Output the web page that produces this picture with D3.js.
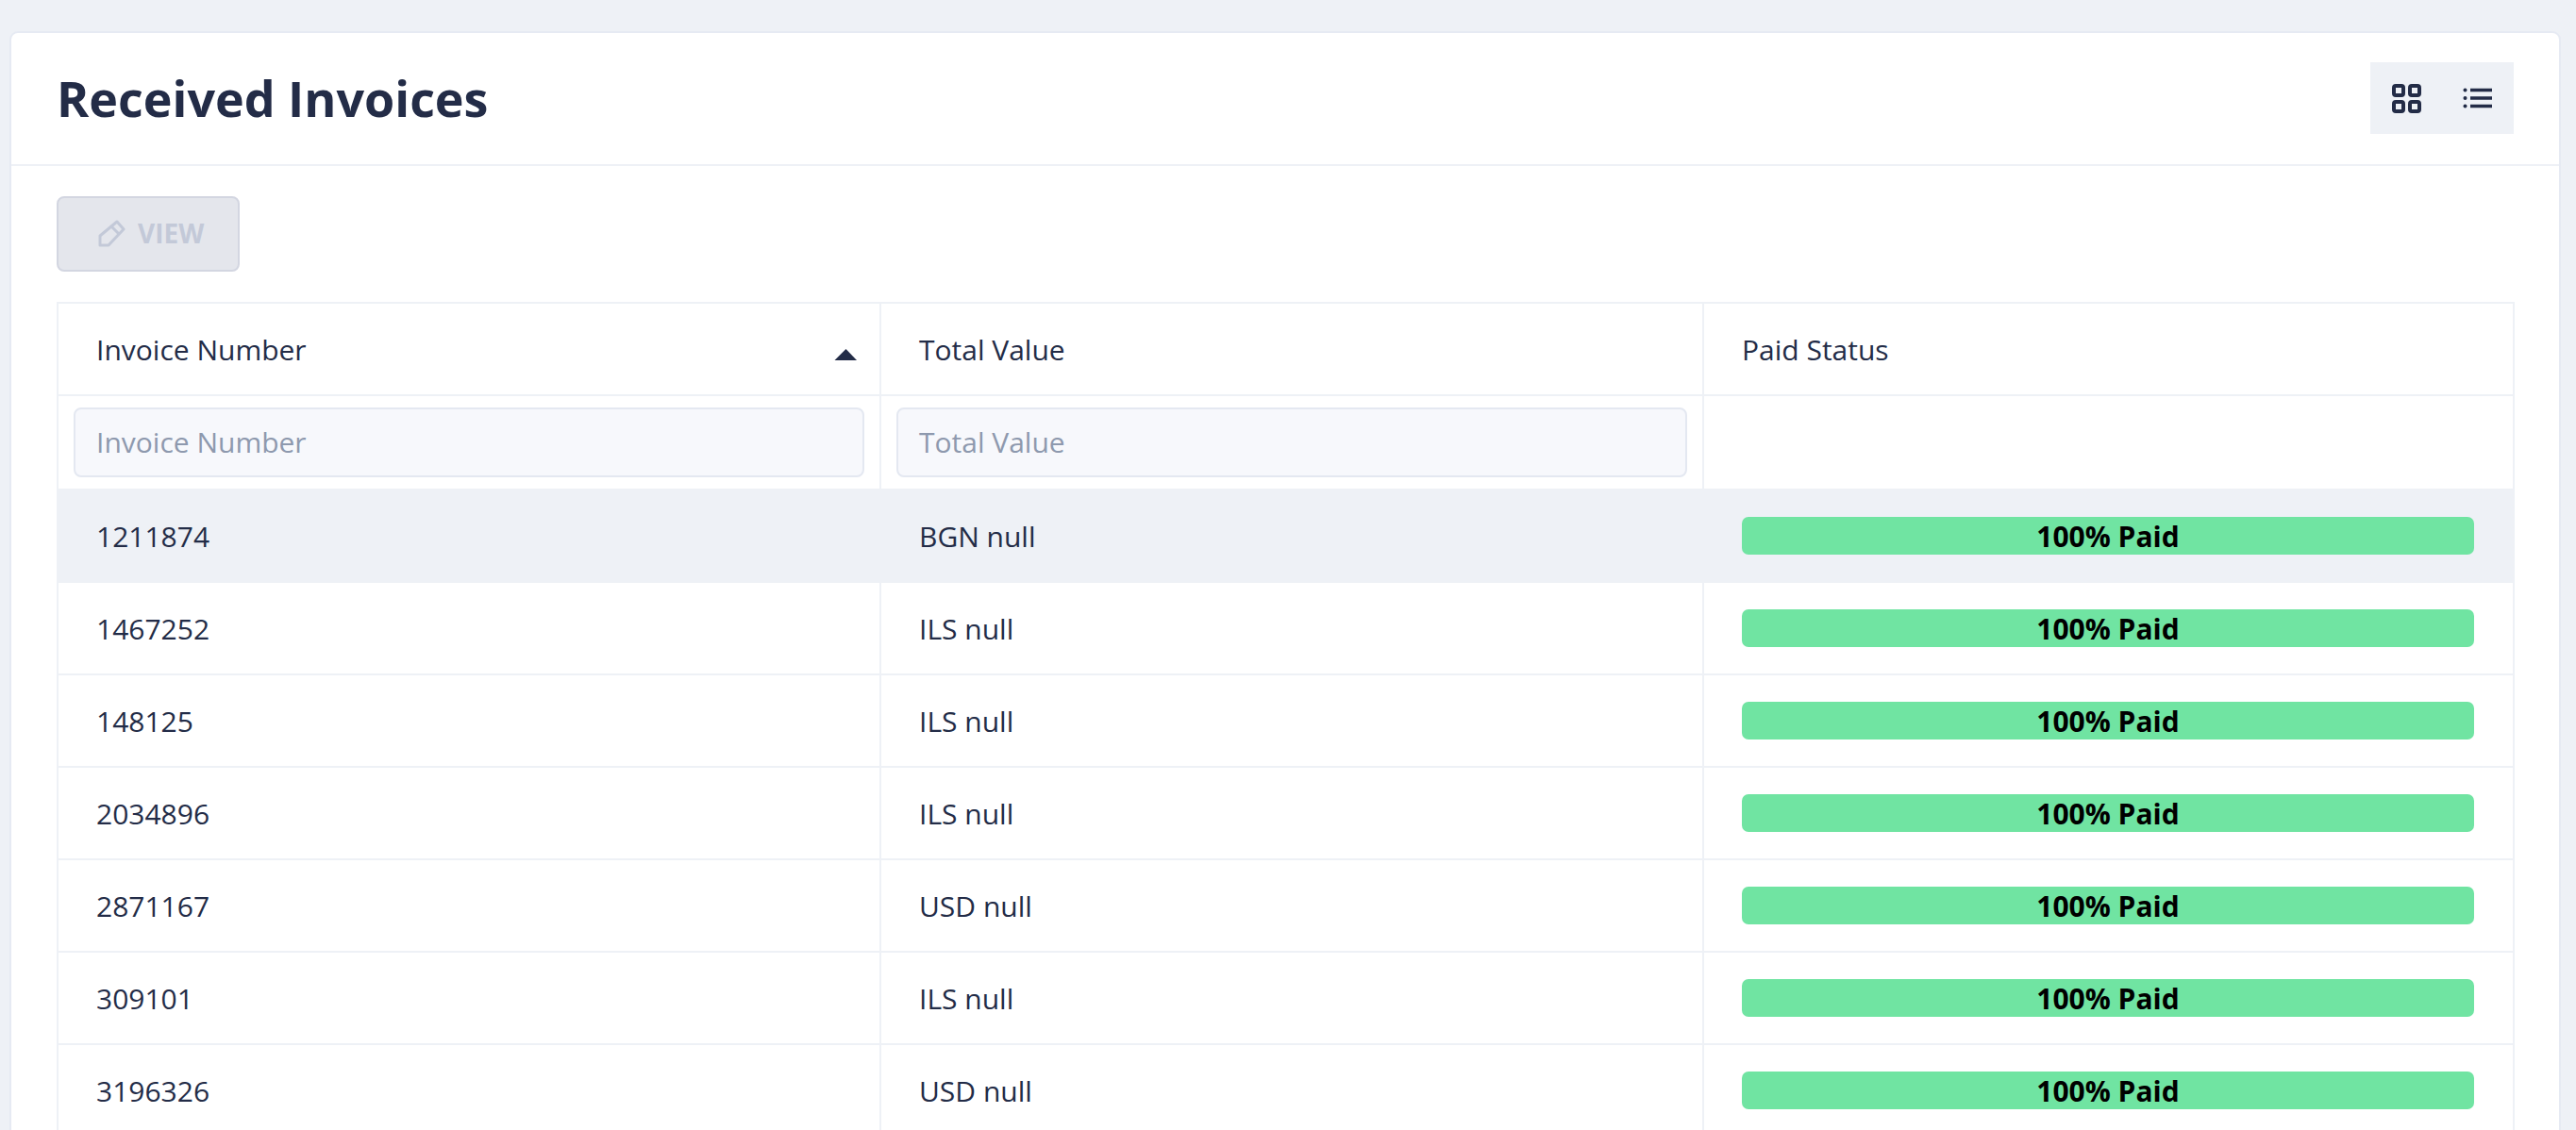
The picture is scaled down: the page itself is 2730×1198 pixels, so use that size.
<!DOCTYPE html>
<html>
<head>
<meta charset="utf-8">
<script src="https://cdn.jsdelivr.net/npm/d3@7/dist/d3.min.js"></script>
<style>
  html, body { margin: 0; padding: 0; background: #eef1f6; overflow: hidden; }
  svg { display: block; }
  text { font-family: "Open Sans", "Noto Sans", sans-serif; }
</style>
</head>
<body>
<div id="chart"></div>
<script>
const title = 'Received Invoices';
const viewLabel = 'VIEW';
const columns = ['Invoice Number', 'Total Value', 'Paid Status'];
const filterColumns = ['Invoice Number', 'Total Value'];
const invoiceNumbers = ['1211874', '1467252', '148125', '2034896', '2871167', '309101', '3196326'];
const totalValues = ['BGN null', 'ILS null', 'ILS null', 'ILS null', 'USD null', 'ILS null', 'USD null'];
const paidPercents = [100, 100, 100, 100, 100, 100, 100];

const width = 2730;
const height = 1198;
const ink = '#232c47';
const line = '#eef1f6';

const rows = invoiceNumbers.map((n, i) => ({ number: n, total: totalValues[i], paid: paidPercents[i], i }));

const svg = d3.select('#chart').append('svg')
  .attr('width', width)
  .attr('height', height)
  .attr('viewBox', [0, 0, width, height]);

// scales for the table grid
const colX = d3.scaleOrdinal().domain(columns).range([61, 933, 1805]);
const tableRight = 2664;
const rowY = d3.scaleBand().domain(d3.range(rows.length)).range([518, 518 + 98 * rows.length]);
const barX = d3.scaleLinear().domain([0, 100]).range([1846, 2622]);

// card
svg.append('rect')
  .attr('x', 11).attr('y', 34)
  .attr('width', 2702).attr('height', 1300)
  .attr('rx', 8)
  .attr('fill', '#fff')
  .attr('stroke', '#e6eaf3')
  .attr('stroke-width', 2);

svg.append('line')
  .attr('x1', 12).attr('x2', 2712)
  .attr('y1', 175).attr('y2', 175)
  .attr('stroke', line).attr('stroke-width', 2);

svg.append('text')
  .attr('x', 60).attr('y', 124)
  .attr('font-size', 52)
  .attr('font-weight', 700)
  .attr('fill', ink)
  .text(title);

// grid / list toggle
const toggle = svg.append('g');
toggle.append('rect')
  .attr('x', 2512).attr('y', 66)
  .attr('width', 152).attr('height', 76)
  .attr('fill', '#eef1f6');

[[2537, 91], [2554, 91], [2537, 108], [2554, 108]].forEach(p => {
  toggle.append('rect')
    .attr('x', p[0]).attr('y', p[1])
    .attr('width', 10).attr('height', 10)
    .attr('rx', 2)
    .attr('fill', 'none')
    .attr('stroke', ink)
    .attr('stroke-width', 4);
});

[95.5, 104, 112.5].forEach(y => {
  toggle.append('circle')
    .attr('cx', 2612.5).attr('cy', y).attr('r', 2)
    .attr('fill', ink);
  toggle.append('line')
    .attr('x1', 2618).attr('x2', 2641)
    .attr('y1', y).attr('y2', y)
    .attr('stroke', ink).attr('stroke-width', 3.5);
});

// disabled view button
const button = svg.append('g');
button.append('rect')
  .attr('x', 61).attr('y', 209)
  .attr('width', 192).attr('height', 78)
  .attr('rx', 7)
  .attr('fill', '#e4e6ec')
  .attr('stroke', '#d3d6e1')
  .attr('stroke-width', 2);

button.append('path')
  .attr('d', 'M106 260 L106 250 L124 235 L131 243 L115 260 Z M118 240 L126 248')
  .attr('fill', 'none')
  .attr('stroke', '#c3c9d8')
  .attr('stroke-width', 3)
  .attr('stroke-linejoin', 'round');

button.append('text')
  .attr('x', 146).attr('y', 258)
  .attr('font-size', 28)
  .attr('font-weight', 700)
  .attr('fill', '#c3c9d8')
  .text(viewLabel);

const gridLines = svg.append('g').attr('stroke', line).attr('stroke-width', 2);

gridLines.append('line')
  .attr('x1', 61).attr('x2', tableRight)
  .attr('y1', 321).attr('y2', 321);

gridLines.append('line')
  .attr('x1', 61).attr('x2', tableRight)
  .attr('y1', 419).attr('y2', 419);

gridLines.selectAll('line.col')
  .data(columns.concat('end'))
  .join('line')
  .attr('class', 'col')
  .attr('x1', d => d === 'end' ? tableRight : colX(d))
  .attr('x2', d => d === 'end' ? tableRight : colX(d))
  .attr('y1', 320)
  .attr('y2', height);

gridLines.selectAll('line.row')
  .data(rows)
  .join('line')
  .attr('class', 'row')
  .attr('x1', 61).attr('x2', tableRight)
  .attr('y1', d => rowY(d.i) + rowY.bandwidth() + 1)
  .attr('y2', d => rowY(d.i) + rowY.bandwidth() + 1);

// selected row
svg.append('rect')
  .attr('x', 61).attr('y', rowY(0))
  .attr('width', tableRight - 61)
  .attr('height', rowY.bandwidth() + 2)
  .attr('fill', '#eef1f6');

// header
svg.selectAll('text.head')
  .data(columns)
  .join('text')
  .attr('class', 'head')
  .attr('x', d => colX(d) + 41)
  .attr('y', 382)
  .attr('font-size', 30)
  .attr('fill', ink)
  .text(d => d);

svg.append('path')
  .attr('d', 'M884.5 382 L896.5 370 L908 382 Z')
  .attr('fill', ink);

// filter inputs
const filters = svg.selectAll('g.filter')
  .data(filterColumns)
  .join('g')
  .attr('class', 'filter');

filters.append('rect')
  .attr('x', d => colX(d) + 18)
  .attr('y', 433)
  .attr('width', 836)
  .attr('height', 72)
  .attr('rx', 7)
  .attr('fill', '#f7f8fc')
  .attr('stroke', '#e4e8f1')
  .attr('stroke-width', 2);

filters.append('text')
  .attr('x', d => colX(d) + 41)
  .attr('y', 480)
  .attr('font-size', 30)
  .attr('fill', '#8e99ae')
  .text(d => d);

// body rows
const rowG = svg.selectAll('g.invoice')
  .data(rows)
  .join('g')
  .attr('class', 'invoice')
  .attr('transform', d => `translate(0,${rowY(d.i)})`);

rowG.append('text')
  .attr('x', colX(columns[0]) + 41)
  .attr('y', 62)
  .attr('font-size', 30)
  .attr('fill', ink)
  .text(d => d.number);

rowG.append('text')
  .attr('x', colX(columns[1]) + 41)
  .attr('y', 62)
  .attr('font-size', 30)
  .attr('fill', ink)
  .text(d => d.total);

rowG.append('rect')
  .attr('x', barX(0))
  .attr('y', 30)
  .attr('width', d => barX(d.paid) - barX(0))
  .attr('height', 40)
  .attr('rx', 7)
  .attr('fill', '#70e4a2');

rowG.append('text')
  .attr('x', (barX(0) + barX(100)) / 2)
  .attr('y', 62)
  .attr('text-anchor', 'middle')
  .attr('font-size', 30)
  .attr('font-weight', 700)
  .attr('fill', '#000')
  .text(d => `${d.paid}% Paid`);
</script>
</body>
</html>
